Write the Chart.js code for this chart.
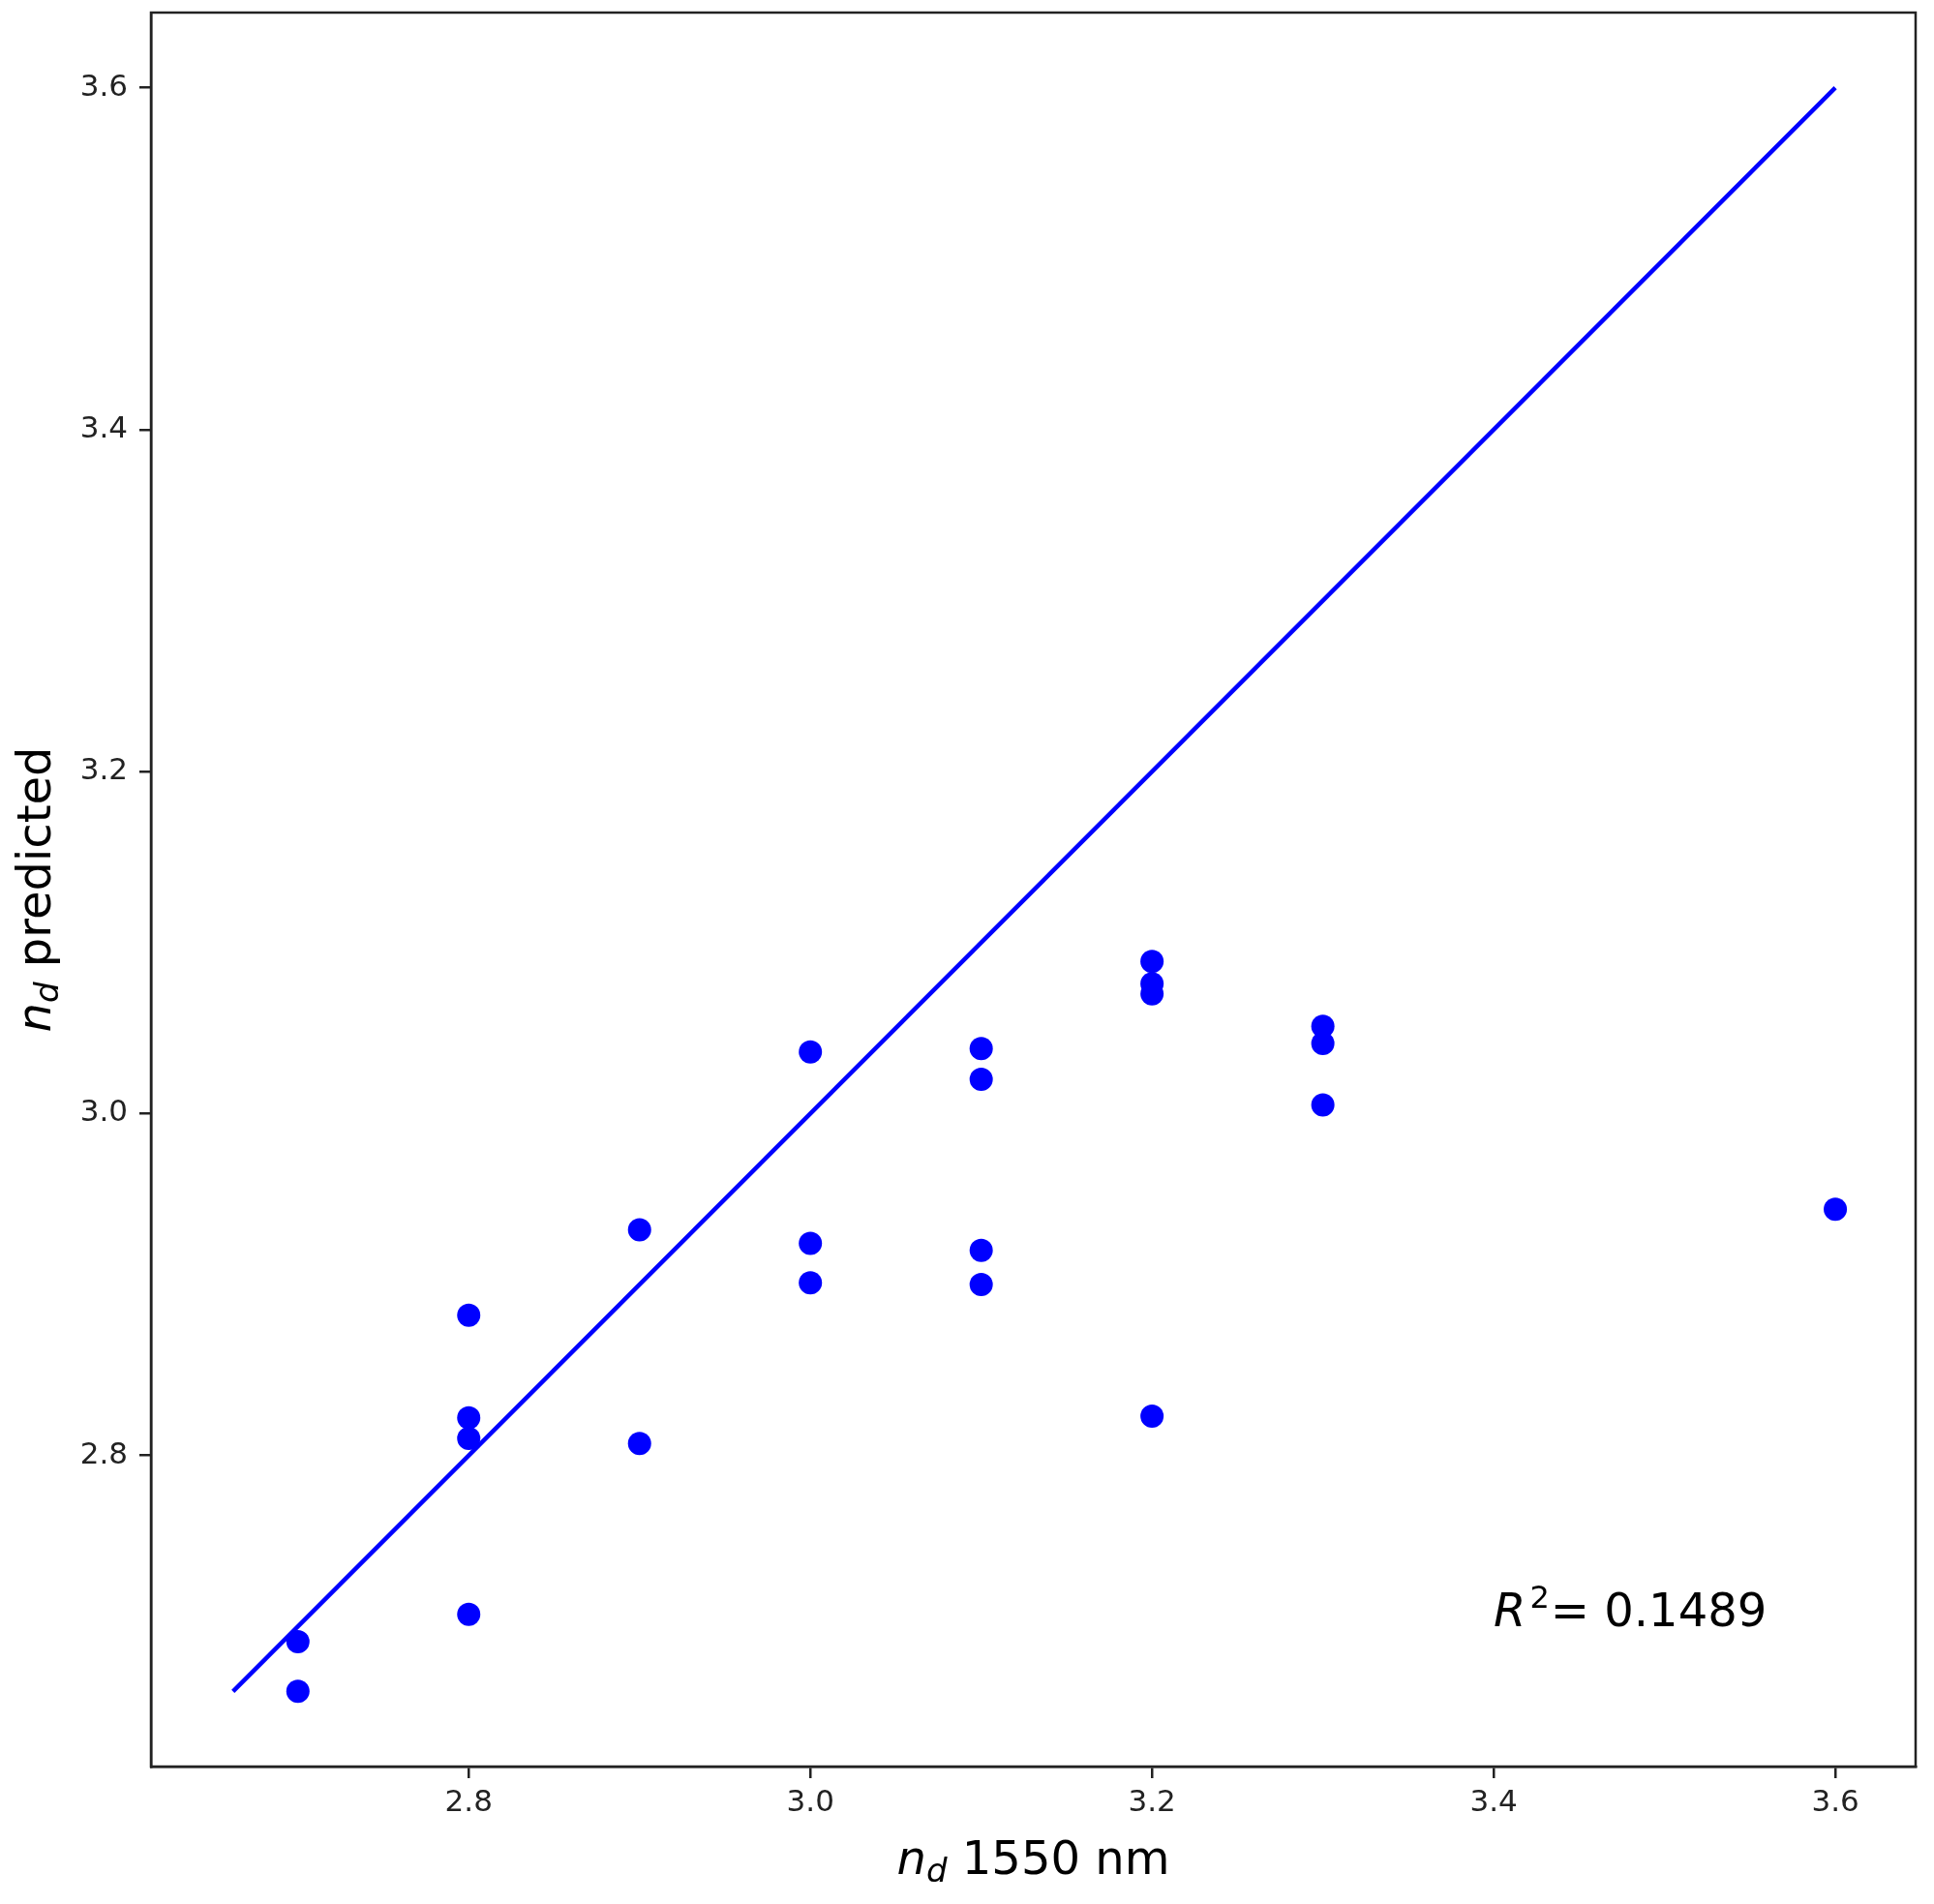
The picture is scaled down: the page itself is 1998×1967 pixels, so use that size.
<!DOCTYPE html>
<html>
<head>
<meta charset="utf-8">
<script src="https://cdn.jsdelivr.net/npm/chart.js@4.4.1/dist/chart.umd.min.js"></script>
<style>
  html, body { margin: 0; padding: 0; background: #fff; }
  canvas { display: block; }
</style>
</head>
<body>
<canvas id="grafico" width="1998" height="1967"></canvas>
<script>
// valores
const nd1550 = [2.7, 2.7, 2.8, 2.8, 2.8, 2.8, 2.9, 2.9, 3.0, 3.0, 3.0, 3.1, 3.1, 3.1, 3.1, 3.2, 3.2, 3.2, 3.2, 3.3, 3.3, 3.3, 3.6];
const ndPredicted = [2.691, 2.662, 2.882, 2.822, 2.810, 2.707, 2.932, 2.807, 3.036, 2.924, 2.901, 3.038, 3.020, 2.920, 2.900, 3.089, 3.076, 3.070, 2.823, 3.051, 3.041, 3.005, 2.944];
const idealLine = [2.662, 3.6];
const xTicks = [2.8, 3.0, 3.2, 3.4, 3.6];
const yTicks = [2.8, 3.0, 3.2, 3.4, 3.6];
const r2Text = '= 0.1489';

const FONT = "'DejaVu Sans', sans-serif";
const INK = '#222';
const TITLE_SIZE = 48;

const pontos = nd1550.map((x, i) => ({ x: x, y: ndPredicted[i] }));
const linha = idealLine.map(v => ({ x: v, y: v }));

// desenha "n_d" + resto do texto centrado na origem
function drawSubLabel(ctx, rest, size) {
    const sub = Math.round(size * 0.7);
    ctx.font = `italic ${size}px ${FONT}`;
    const wn = ctx.measureText('n').width;
    ctx.font = `italic ${sub}px ${FONT}`;
    const wd = ctx.measureText('d').width;
    ctx.font = `${size}px ${FONT}`;
    const wr = ctx.measureText(rest).width;
    let x = -(wn + wd + wr) / 2;
    ctx.textBaseline = 'alphabetic';
    ctx.textAlign = 'left';
    ctx.font = `italic ${size}px ${FONT}`;
    ctx.fillText('n', x, 0);
    x += wn;
    ctx.font = `italic ${sub}px ${FONT}`;
    ctx.fillText('d', x, size * 0.16);
    x += wd;
    ctx.font = `${size}px ${FONT}`;
    ctx.fillText(rest, x, 0);
}

const extras = {
    id: 'extras',
    afterDraw(chart) {
        const ctx = chart.ctx;
        const a = chart.chartArea;
        ctx.save();
        // moldura completa
        ctx.strokeStyle = INK;
        ctx.lineWidth = 2.5;
        ctx.strokeRect(a.left, a.top, a.right - a.left, a.bottom - a.top);

        ctx.fillStyle = '#000';
        // título eixo x
        ctx.save();
        ctx.translate((a.left + a.right) / 2, 1936);
        drawSubLabel(ctx, ' 1550 nm', TITLE_SIZE);
        ctx.restore();
        // título eixo y
        ctx.save();
        ctx.translate(52, (a.top + a.bottom) / 2);
        ctx.rotate(-Math.PI / 2);
        drawSubLabel(ctx, ' predicted', TITLE_SIZE);
        ctx.restore();

        // texto R²
        const px = chart.scales.x.getPixelForValue(3.4);
        const py = chart.scales.y.getPixelForValue(2.7);
        ctx.textAlign = 'left';
        ctx.textBaseline = 'alphabetic';
        let x = px;
        ctx.font = `italic ${TITLE_SIZE}px ${FONT}`;
        ctx.fillText('R', x, py);
        x += ctx.measureText('R').width + 4;
        ctx.font = `32px ${FONT}`;
        ctx.fillText('2', x, py - 19);
        x += ctx.measureText('2').width + 1;
        ctx.font = `${TITLE_SIZE}px ${FONT}`;
        ctx.fillText(r2Text, x, py);
        ctx.restore();
    }
};

function eixo(ticks, padding, fit) {
    return {
        type: 'linear',
        afterBuildTicks: (scale) => { scale.ticks = ticks.map(v => ({ value: v })); },
        afterFit: fit,
        ticks: {
            font: { family: FONT, size: 31 },
            color: INK,
            padding: padding,
            callback: (v) => Number(v).toFixed(1)
        },
        grid: {
            display: true,
            drawOnChartArea: false,
            drawTicks: true,
            tickLength: 12,
            color: INK,
            lineWidth: 2.5
        },
        border: { display: true, color: INK, width: 2.5 }
    };
}

const escalaX = eixo(xTicks, 7, (s) => {
    s.height = 142;
    s.paddingLeft = 0;
    s.paddingRight = 0;
});
escalaX.min = 2.614;
escalaX.max = 3.647;
const escalaY = eixo(yTicks, 12, (s) => {
    s.width = 156;
    s.paddingTop = 0;
    s.paddingBottom = 0;
});
escalaY.min = 2.618;
escalaY.max = 3.644;

const ctxGrafico = document.getElementById('grafico').getContext('2d');
const chart = new Chart(ctxGrafico, {
    type: 'scatter',
    data: {
        datasets: [{
            label: 'ideal',
            type: 'line',
            data: linha,
            borderColor: '#0000ff',
            borderWidth: 4.5,
            pointRadius: 0,
            fill: false
        }, {
            label: 'dados',
            data: pontos,
            backgroundColor: '#0000ff',
            borderColor: '#0000ff',
            borderWidth: 0,
            pointRadius: 12
        }]
    },
    options: {
        responsive: false,
        animation: false,
        devicePixelRatio: 1,
        layout: { padding: { left: 0, top: 13, right: 19, bottom: 0 } },
        plugins: {
            legend: { display: false },
            tooltip: { enabled: false }
        },
        scales: { x: escalaX, y: escalaY }
    },
    plugins: [extras]
});
</script>
</body>
</html>
